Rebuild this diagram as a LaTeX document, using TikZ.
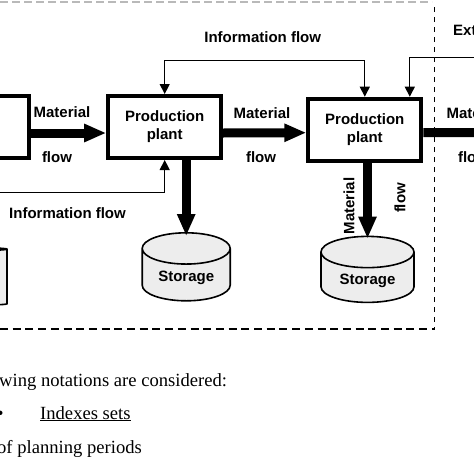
\documentclass[tikz,border=0pt]{standalone}
\usepackage{fontspec}
\setmainfont{Liberation Serif}
\setsansfont{Liberation Sans}
\usetikzlibrary{shapes.geometric}
\usetikzlibrary{arrows.meta}
\usetikzlibrary{calc}
\tikzset{plant/.style={rectangle, draw, line width=4pt, minimum width=113pt, minimum height=62pt, align=center, font=\sffamily\bfseries\fontsize{15}{18}\selectfont}}
\tikzset{storage/.style={cylinder, shape border rotate=90, draw, line width=1.6pt, aspect=0.5, fill=gray!14, font=\sffamily\bfseries\fontsize{15}{18}\selectfont}}
\tikzset{flowlab/.style={inner sep=0pt, font=\sffamily\bfseries\fontsize{15}{18}\selectfont}}
\tikzset{matflow/.style={line width=9pt, -{Triangle[length=22pt,width=17pt]}}}
\tikzset{infoflow/.style={line width=1.2pt, -{Triangle[length=10pt,width=10pt]}}}
\tikzset{noteline/.style={inner sep=0pt, anchor=base west, font=\fontsize{18.6}{22}\selectfont}}

\begin{document}
\begin{tikzpicture}[x=1pt,y=-1pt]
  \useasboundingbox (0,0) rectangle (474,474);
  % frame of the system
  \draw[gray!55, line width=2pt, dash pattern=on 8pt off 4pt] (0,2) -- (432,2);
  \draw[line width=1.7pt, dash pattern=on 5pt off 5pt] (434.5,7) -- (434.5,329);
  \draw[line width=2pt, dash pattern=on 8pt off 4.7pt] (0,329) -- (434.5,329);

  \foreach \x/\y/\lab/\txt in {
    -28/126.5/src/{},
    164.7/127/pp1/{Production\\plant},
    364.8/129.7/pp2/{Production\\plant}%
  } {
    \node[plant] (\lab) at (\x, \y) {\txt};
  }
  \foreach \x/\y/\w/\h/\lab/\txt in {
    -37/278/88/58/st0/{},
    186.2/278/88/68/st1/Storage,
    367.5/280.5/93/66/st2/Storage%
  } {
    \node[storage, minimum width=\w pt, minimum height=\h pt] (\lab) at (\x, \y) {\txt};
  }

  \coordinate (extmat) at (530,132.5);
  \coordinate (extinfo) at (490,57.3);
  \coordinate (ininfo) at (-10,192.7);
  \coordinate (infotop) at (0,60.5);

  % material flows
  \draw[matflow] ([yshift=-6.5pt]src.east) -- ([yshift=-6pt]pp1.west);
  \draw[matflow] ([yshift=-6pt]pp1.east) -- ([yshift=-3pt]pp2.west);
  \draw[matflow] ([yshift=-3pt]pp2.east) -- (extmat);
  \draw[matflow] (pp1.south -| st1.north) -- ([yshift=-4pt]st1.north);
  \draw[matflow] (pp2.south -| st2.north) -- ([yshift=-3pt]st2.north);

  % information flows
  \draw[infoflow, {Triangle[length=10pt,width=10pt]}-{Triangle[length=10pt,width=10pt]}]
    (pp1.north) -- (pp1.north |- infotop) -| (pp2.north);
  \draw[infoflow] (extinfo) -| ([xshift=45pt]pp2.north);
  \draw[infoflow] (ininfo) -| (pp1.south);

  \foreach \x/\y/\lab/\rot/\txt in {
    62/112/m1/0/Material,
    57/157/f1/0/flow,
    262/113/m2/0/Material,
    261/157/f2/0/flow,
    475/113/m3/0/Material,
    473/157/f3/0/flow,
    349/206/m4/90/Material,
    400/198/f4/90/flow,
    262.7/37.5/i1/0/Information flow,
    67.5/213/i2/0/Information flow%
  } {
    \node[flowlab, rotate=\rot] (\lab) at (\x, \y) {\txt};
  }
  \node[flowlab, anchor=west] (e1) at (453,30) {External};

  % text below the figure
  \node[noteline] (n1) at (-1,386) {wing notations are considered:};
  \node[noteline, anchor=base] (n2) at (0.5,419) {•};
  \node[noteline] (n3) at (40,419) {\underline{Indexes sets}};
  \node[noteline] (n4) at (-3,453) {of planning periods};
\end{tikzpicture}
\end{document}
